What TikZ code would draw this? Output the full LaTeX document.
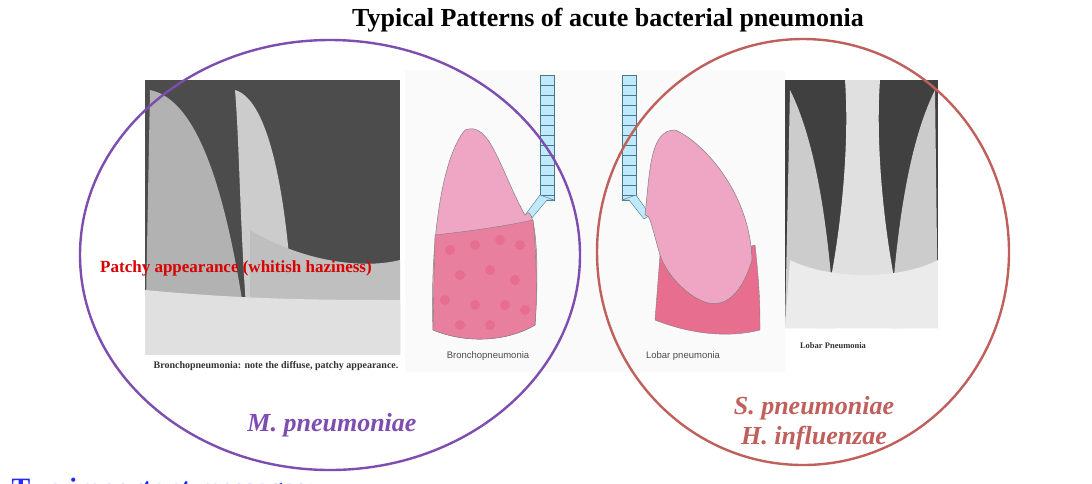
\documentclass[tikz,border=0pt]{standalone}
\usepackage{fontspec}
\setmainfont{Liberation Serif}
\newfontfamily\sansf{Liberation Sans}
\definecolor{purp}{HTML}{7E4DB0}
\definecolor{dred}{HTML}{C0605C}
\definecolor{lpink}{HTML}{EFA6C4}
\definecolor{dpink}{HTML}{E76E8E}
\begin{document}
\begin{tikzpicture}[x=1pt,y=-1pt,
  lbl/.style={font=\sansf\fontsize{9.5}{11}\selectfont, text=black!70},
  xcapt/.style={font=\fontsize{10}{12}\selectfont\bfseries, text=black!80},
  lung/.style={fill=lpink, draw=black!50, line width=0.5pt},
  tube/.style={fill=cyan!25, draw=cyan!50!black, line width=0.4pt}]
\clip (0,0) rectangle (1092,483);
\fill[white] (0,0) rectangle (1092,483);
\node (title) at (608,20) {\fontsize{26}{30}\selectfont\bfseries Typical Patterns of acute bacterial pneumonia};
% left xray
\fill[black!70] (145,80) rectangle (400,355);
\fill[black!30] (150,90) .. controls (200,100) and (230,200) .. (250,355) -- (145,355) -- cycle;
\fill[black!20] (235,90) .. controls (270,100) and (290,200) .. (295,355) -- (250,355) .. controls (240,250) and (240,150) .. (235,90);
\fill[black!25] (250,230) .. controls (300,260) and (360,270) .. (400,260) -- (400,355) -- (250,355) -- cycle;
\fill[black!12] (145,290) .. controls (250,300) and (330,300) .. (400,300) -- (400,355) -- (145,355) -- cycle;
\fill[white] (145,355) rectangle (402,375);
\node[xcapt] (xcap) at (276,366) {Bronchopneumonia: note the diffuse, patchy appearance.};
\node (patchy) at (236,268) {\fontsize{17}{20}\selectfont\bfseries\color{red!85!black}Patchy appearance (whitish haziness)};
% lungs
\fill[black!2] (405,70) rectangle (785,372);
\draw[tube] (540,75) rectangle (554,200);
\foreach \y in {85,95,...,195} \draw[cyan!50!black,line width=0.3pt] (540,\y) -- (554,\y);
\draw[tube] (540,195) -- (525,215) -- (531,219) -- (547,200) -- (554,200) -- cycle;
\draw[lung] (465,130) .. controls (440,160) and (430,250) .. (433,330) .. controls (470,345) and (510,340) .. (535,325) .. controls (540,260) and (535,200) .. (525,215) .. controls (500,170) and (490,120) .. (465,130) -- cycle;
\fill[dpink!70!lpink, draw=black!50] (435,235) .. controls (480,230) and (510,225) .. (533,220) .. controls (537,260) and (537,300) .. (535,325) .. controls (510,340) and (470,345) .. (433,330) -- cycle;
\foreach \p in {(450,250),(475,245),(500,240),(520,245),(460,275),(490,270),(515,280),(445,300),(475,305),(505,305),(525,310),(460,325),(490,325)}
  \fill[dpink] \p circle (5);
\node[lbl] (bl) at (488,356) {Bronchopneumonia};
\draw[tube] (622,75) rectangle (636,200);
\foreach \y in {85,95,...,195} \draw[cyan!50!black,line width=0.3pt] (622,\y) -- (636,\y);
\draw[tube] (622,200) -- (636,195) -- (650,215) -- (644,219) -- (629,200) -- cycle;
\fill[dpink, draw=black!50] (660,255) .. controls (700,260) and (740,250) .. (755,245) .. controls (760,290) and (760,310) .. (760,330) .. controls (720,340) and (680,330) .. (655,320) -- cycle;
\draw[lung] (675,130) .. controls (700,140) and (750,190) .. (752,260) .. controls (740,300) and (720,310) .. (700,300) .. controls (680,290) and (665,270) .. (660,255) .. controls (650,220) and (650,215) .. (645,215) .. controls (650,170) and (650,130) .. (675,130) -- cycle;
\node[lbl] (ll) at (683,356) {Lobar pneumonia};
% right xray
\fill[black!75] (785,80) rectangle (938,328);
\fill[black!20] (790,90) .. controls (820,150) and (830,250) .. (835,328) -- (785,328) -- cycle;
\fill[black!20] (935,90) .. controls (905,150) and (895,250) .. (890,328) -- (938,328) -- cycle;
\fill[black!12] (845,80) .. controls (850,150) and (840,250) .. (820,328) -- (905,328) .. controls (885,250) and (875,150) .. (880,80) -- cycle;
\fill[black!8] (790,260) .. controls (830,280) and (900,280) .. (938,260) -- (938,328) -- (785,328) -- cycle;
\node[xcapt, font=\fontsize{8.5}{10}\selectfont\bfseries] (rcap) at (833,346) {Lobar Pneumonia};
% ellipses
\draw[purp, line width=2.4pt] (330,255) ellipse (250 and 215);
\draw[dred, line width=2.4pt] (803,252) ellipse (206 and 213);
\node (mp) at (332,425) {\fontsize{26}{30}\selectfont\bfseries\itshape\color{purp}M. pneumoniae};
\node (sp) at (814,408) {\fontsize{26}{30}\selectfont\bfseries\itshape\color{dred}S. pneumoniae};
\node (hi) at (814,438) {\fontsize{26}{30}\selectfont\bfseries\itshape\color{dred}H. influenzae};
\node[anchor=west] (two) at (8,491) {\fontsize{28}{32}\selectfont\bfseries\color{blue!85!white}Two important messages:};
\end{tikzpicture}
\end{document}
